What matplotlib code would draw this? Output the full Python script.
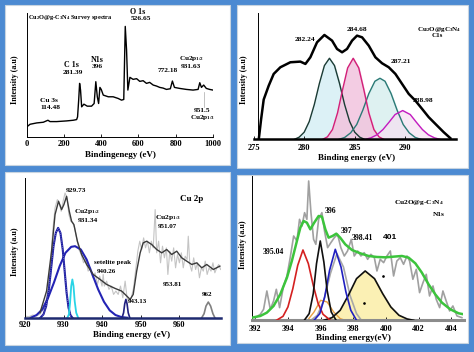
import matplotlib
matplotlib.use("Agg")
import matplotlib.pyplot as plt
from matplotlib.patches import Rectangle

# ---------------- DATA ----------------
# Panel A: survey spectrum
survey_ev = [0, 18, 54, 89, 114, 125, 161, 214, 250, 268, 273, 279, 284, 289, 295, 307, 325, 348, 362,
             371, 379, 386, 393, 400, 411, 438, 464, 491, 509, 521, 529, 536, 543, 554, 571, 590, 607,
             625, 643, 660, 679, 697, 714, 732, 750, 771, 782, 793, 821, 857, 893, 920, 929, 938, 950,
             964, 982, 1000]
survey_i = [30, 38, 42, 44, 50, 46, 46, 48, 50, 52, 60, 110, 160, 140, 90, 98, 92, 92, 100,
            165, 120, 100, 148, 142, 125, 120, 120, 115, 110, 112, 330, 260, 140, 178, 172, 174, 166,
            168, 160, 163, 155, 152, 148, 146, 142, 144, 167, 148, 145, 142, 140, 142, 162, 148, 155,
            145, 142, 140]
survey_ticks = [0, 200, 400, 600, 800, 1000]

# Panel B: C1s
c1s_env_ev = [275.50, 275.73, 275.99, 276.49, 276.98, 277.64, 278.63, 279.62, 280.12, 280.61, 281.27,
              282.00, 282.76, 283.25, 283.75, 284.24, 284.74, 285.23, 285.73, 286.39, 287.05, 287.71,
              288.37, 289.03, 289.69, 290.35, 291.00, 291.67, 292.33, 293.15, 293.81, 294.47]
c1s_env_i = [0, 60, 120, 162, 197, 217, 232, 234, 227, 247, 292, 314, 297, 272, 262, 272, 297, 312,
             307, 282, 247, 229, 217, 197, 167, 137, 117, 92, 67, 42, 22, 4]
c1s_p1_ev = [279.0, 279.5, 280.0, 280.5, 281.0, 281.5, 282.0, 282.5, 283.0, 283.5, 284.0, 284.5, 285.0, 285.5, 286.0]
c1s_p1_i = [0, 7, 22, 54, 105, 168, 222, 244, 222, 168, 105, 54, 22, 7, 0]
c1s_p2_ev = [281.8, 282.3, 282.8, 283.3, 283.8, 284.3, 284.85, 285.4, 285.9, 286.4, 286.9, 287.4, 287.9]
c1s_p2_i = [0, 8, 30, 80, 150, 215, 244, 215, 150, 80, 30, 8, 0]
c1s_p3_ev = [283.4, 284.0, 284.6, 285.2, 285.8, 286.4, 287.0, 287.5, 288.0, 288.6, 289.2, 289.8, 290.4, 291.0, 291.6]
c1s_p3_i = [0, 6, 20, 45, 88, 138, 175, 184, 175, 138, 88, 45, 20, 6, 0]
c1s_p4_ev = [286.0, 286.6, 287.2, 287.8, 288.4, 289.0, 289.75, 290.5, 291.1, 291.7, 292.3, 292.9, 293.5]
c1s_p4_i = [0, 5, 14, 30, 52, 75, 87, 75, 52, 30, 14, 5, 0]
c1s_ticks = [275, 280, 285, 290]

# Panel C: Cu 2p
cu_raw_ev = [920, 921, 922, 923, 924, 925, 925.8, 926.5, 927.2, 927.8, 928.4, 928.9, 929.4, 929.9, 930.4,
             930.9, 931.4, 931.9, 932.4, 932.9, 933.4, 934, 934.6, 935.2, 935.8, 936.4, 937, 937.6,
             938.2, 938.8, 939.4, 940, 940.3, 940.6, 941.2, 941.8, 942.4, 943, 943.6, 944.2, 944.8,
             945.4, 946, 946.5, 947, 947.6, 948.2, 948.8, 949.3, 949.8, 950.3, 950.8, 951.3, 951.8,
             952.3, 952.8, 953.3, 953.8, 954.2, 954.7, 955.2, 955.7, 956.2, 956.7, 957.1, 957.6,
             958.1, 958.6, 959.1, 959.6, 960.1, 960.6, 961.1, 961.6, 962.1, 962.4, 962.8, 963.3,
             963.8, 964.3, 964.8, 965.3, 965.8, 966.3, 966.8, 967.3, 967.8, 968.3, 968.8, 969.3,
             969.8, 970.3, 970.8]
cu_raw_i = [5, 3, 8, 5, 12, 30, 70, 140, 260, 330, 355, 345, 320, 350, 375,
            360, 310, 290, 285, 270, 240, 205, 190, 165, 175, 140, 150, 120,
            135, 100, 125, 95, 130, 95, 110, 85, 95, 70, 80, 70, 95,
            60, 110, 60, 45, 60, 90, 150, 200, 230, 205, 240, 210, 230,
            195, 230, 210, 325, 195, 230, 165, 215, 180, 210, 130, 200,
            170, 210, 150, 190, 165, 195, 150, 185, 175, 245, 160, 140,
            180, 145, 165, 120, 150, 140, 170, 130, 150, 140, 165, 135,
            150, 160, 145]
cu_fit_ev = [923.9, 925.6, 926.9, 927.8, 928.7, 929.5, 930.1, 930.8, 931.5, 932.1, 932.7, 933.6, 934.7,
             936.0, 937.7, 939.5, 941.2, 943.4, 945.1, 946.0, 947.3, 948.1, 949.0, 949.9, 950.7,
             951.6, 952.9, 954.2, 955.5, 956.8, 958.1, 959.4, 960.7, 962.0, 963.3, 964.6, 965.9,
             967.2, 968.9, 970.6]
cu_fit_i = [15, 80, 200, 310, 350, 325, 340, 365, 320, 290, 280, 230, 190,
            160, 130, 115, 100, 88, 80, 70, 55, 70, 140, 195, 225,
            230, 220, 205, 195, 205, 190, 200, 180, 170, 160, 165, 150,
            160, 145, 155]
cu_pk1_ev = [924.0, 924.8, 925.5, 926.2, 926.8, 927.4, 928.0, 928.6, 929.2, 929.8, 930.3, 930.8, 931.3, 931.8, 932.3]
cu_pk1_i = [0, 10, 35, 85, 150, 215, 255, 270, 255, 205, 140, 75, 30, 8, 0]
cu_pk2_ev = [921.5, 923, 924.5, 926, 927.5, 929, 930.5, 932, 933, 934.5, 936, 937.5, 939, 940.5, 942, 943.5, 945, 946.5]
cu_pk2_i = [0, 8, 25, 60, 105, 155, 195, 213, 215, 205, 175, 130, 85, 48, 22, 8, 2, 0]
cu_pk3_ev = [931.0, 931.4, 931.7, 932.0, 932.3, 932.6, 932.9, 933.3, 933.8]
cu_pk3_i = [0, 10, 45, 95, 115, 95, 50, 15, 0]
cu_pk4_ev = [945.2, 945.6, 945.9, 946.2, 946.5, 946.8, 947.2]
cu_pk4_i = [0, 15, 42, 55, 42, 15, 0]
cu_pk5_ev = [965.9, 966.5, 967.0, 967.6, 968.2, 968.8, 969.3]
cu_pk5_i = [0, 12, 35, 47, 35, 12, 0]
cu_ticks = [920, 930, 940, 950, 960]

# Panel D: N1s
n_raw_ev = [392.0, 392.31, 392.51, 392.71, 392.92, 393.12, 393.29, 393.49, 393.73, 393.94, 394.14, 394.35,
            394.55, 394.71, 394.86, 395.02, 395.16, 395.27, 395.41, 395.57, 395.71, 395.88, 396.08,
            396.24, 396.43, 396.63, 396.84, 397.04, 397.24, 397.45, 397.65, 397.88, 398.06, 398.27,
            398.47, 398.67, 398.88, 399.08, 399.29, 399.45, 399.65, 399.86, 400.06, 400.27, 400.47,
            400.67, 400.88, 401.08, 401.29, 401.45, 401.65, 401.86, 402.06, 402.27, 402.47, 402.67,
            402.88, 403.08, 403.29, 403.49, 403.69, 403.9, 404.1, 404.35, 404.65]
n_raw_i = [8, 18, 33, 88, 33, 58, 93, 38, 103, 133, 188, 253,
           238, 303, 283, 323, 303, 418, 323, 243, 228, 303, 323,
           268, 218, 233, 248, 258, 218, 193, 208, 243, 193, 208,
           193, 203, 183, 198, 188, 148, 183, 173, 193, 208, 133,
           178, 188, 168, 193, 178, 123, 153, 83, 113, 138, 73,
           103, 63, 38, 88, 58, 28, 43, 13, 8]
n_fit_ev = [391.8, 392.31, 392.71, 393.12, 393.53, 393.94, 394.24, 394.55, 394.76, 394.96, 395.16, 395.37,
            395.61, 395.88, 396.08, 396.29, 396.49, 396.73, 396.96, 397.2, 397.51, 397.92, 398.43,
            398.94, 399.45, 399.96, 400.47, 400.98, 401.39, 401.8, 402.2, 402.61, 403.02, 403.43,
            403.94, 404.45, 404.76]
n_fit_i = [8, 13, 23, 43, 78, 128, 178, 238, 278, 298, 293, 273,
           293, 313, 311, 273, 248, 253, 260, 248, 228, 211, 201,
           193, 190, 189, 191, 193, 188, 171, 143, 108, 78, 53,
           33, 21, 18]
n_red_ev = [393.3, 393.7, 394.0, 394.3, 394.6, 394.92, 395.25, 395.55, 395.85, 396.15, 396.6]
n_red_i = [0, 12, 40, 95, 165, 211, 170, 105, 50, 18, 0]
n_blk_ev = [395.0, 395.3, 395.55, 395.75, 395.98, 396.2, 396.4, 396.65, 396.95]
n_blk_i = [0, 20, 80, 170, 238, 175, 90, 25, 0]
n_blu_ev = [395.6, 395.95, 396.25, 396.55, 396.9, 397.25, 397.55, 397.85, 398.2]
n_blu_i = [0, 20, 70, 150, 213, 160, 85, 30, 0]
n_gry_ev = [395.4, 395.8, 396.2, 396.6, 397.0, 397.4, 397.8, 398.2, 398.5]
n_gry_i = [0, 15, 60, 140, 200, 160, 75, 20, 0]
n_org_ev = [395.2, 395.6, 396.0, 396.4, 396.8, 397.2, 397.5]
n_org_i = [0, 25, 60, 55, 25, 5, 0]
n_yel_ev = [396.2, 396.7, 397.2, 397.7, 398.2, 398.73, 399.3, 399.8, 400.3, 400.8, 401.3, 401.7]
n_yel_i = [0, 8, 30, 75, 125, 148, 125, 80, 40, 15, 4, 0]
n_ticks = [392, 394, 396, 398, 400, 402, 404]

# ---------------- STYLE ----------------
W, H = 474, 352
plt.rcParams['font.family'] = ['Liberation Serif', 'DejaVu Serif']
plt.rcParams['font.weight'] = 'bold'
plt.rcParams['mathtext.fontset'] = 'custom'
plt.rcParams['mathtext.rm'] = 'Liberation Serif:bold'
plt.rcParams['mathtext.it'] = 'Liberation Serif:bold'
plt.rcParams['mathtext.bf'] = 'Liberation Serif:bold'

fig = plt.figure(figsize=(W / 100, H / 100), dpi=100)
fig.patch.set_facecolor('#4c8ad2')


def fx(x):
    return x / W


def fy(y):
    return 1 - y / H


def panel(x0, y0, x1, y1):
    fig.add_artist(Rectangle((fx(x0), fy(y1)), (x1 - x0) / W, (y1 - y0) / H,
                             transform=fig.transFigure, facecolor='white',
                             edgecolor='#c8d4e0', lw=0.8, zorder=-1))


def axes_px(left, top, right, bottom, pad=2.5):
    ax = fig.add_axes([fx(left), fy(bottom), (right - left) / W, (bottom - top) / H])
    ax.patch.set_alpha(0)
    ax.spines['top'].set_visible(False)
    ax.spines['right'].set_visible(False)
    ax.set_yticks([])
    ax.tick_params(axis='x', direction='in', length=2, width=0.6, pad=pad, labelsize=6)
    return ax


def txt(x, y, s, size=5.3, ha='center', **kw):
    fig.text(fx(x), fy(y), s, ha=ha, va='center', fontsize=size, fontweight='bold', **kw)


panel(5, 5, 230, 165)
panel(237, 5, 468, 168)
panel(5, 172, 230, 345)
panel(237, 175, 468, 343)

# ---------- Panel A ----------
ax1 = axes_px(26.7, 13, 213, 137)
ax1.plot(survey_ev, survey_i, color='black', lw=1.0)
ax1.set_xlim(0, 1000)
ax1.set_ylim(0, 370)
ax1.set_xticks(survey_ticks)
ax1.spines['left'].set_linewidth(0.7)
ax1.spines['bottom'].set_linewidth(0.7)
txt(15, 80, 'Intensity (a.u)', size=5.8, rotation=90)
txt(120, 155, 'Bindingenegy (eV)', size=6.5)
txt(28, 17, 'Cu$_2$O@g-C$_3$N$_4$ Survey spectra', size=4.6, ha='left')
txt(138, 12, 'O 1s', size=5.8)
txt(140.5, 19, '526.65')
txt(97, 60, 'N1s', size=5.8)
txt(97, 66.5, '396')
txt(71.7, 65, 'C 1s', size=5.8)
txt(73, 72, '281.39')
txt(49, 101, 'Cu 3s')
txt(50, 107.5, '114.48')
txt(167.5, 71, '772.18')
txt(191.7, 58.5, 'Cu2p$_{1/2}$', size=5.2)
txt(191, 66.5, '931.63')
txt(202.5, 110.5, '951.5')
txt(203, 118, 'Cu2p$_{1/3}$', size=5.2)
fig.add_artist(plt.Line2D([fx(204), fx(204)], [fy(92), fy(107)], color='#aaaaaa', lw=0.5))

# ---------- Panel B ----------
ax2 = axes_px(253.7, 13, 455.7, 139.5, pad=3.5)
ax2.fill_between(c1s_p1_ev, c1s_p1_i, color='#dcf1f6', zorder=1)
ax2.fill_between(c1s_p3_ev, c1s_p3_i, color='#d6eeee', alpha=0.8, zorder=1)
ax2.fill_between(c1s_p2_ev, c1s_p2_i, color='#f2c4de', alpha=0.85, zorder=1)
ax2.fill_between(c1s_p4_ev, c1s_p4_i, color='#f6e0f2', alpha=0.7, zorder=1)
ax2.plot(c1s_p1_ev, c1s_p1_i, color='#1b3b34', lw=1.0, zorder=2)
ax2.plot(c1s_p3_ev, c1s_p3_i, color='#2b7a76', lw=1.0, zorder=2)
ax2.plot(c1s_p2_ev, c1s_p2_i, color='#d21f78', lw=1.0, zorder=2)
ax2.plot(c1s_p4_ev, c1s_p4_i, color='#c21cc0', lw=1.0, zorder=2)
ax2.plot(c1s_env_ev, c1s_env_i, color='black', lw=1.8, zorder=3)
ax2.set_xlim(275, 295)
ax2.set_ylim(0, 380)
ax2.set_xticks(c1s_ticks)
ax2.spines['left'].set_position(('data', 275.4))
ax2.spines['left'].set_linewidth(0.7)
ax2.spines['bottom'].set_linewidth(1.8)
txt(244.3, 80, 'Intensity (a.u)', size=5.8, rotation=90)
txt(357, 157.5, 'Binding energy (eV)', size=6.5)
txt(305.3, 39.5, '282.24')
txt(357, 29.5, '284.68')
txt(400.7, 61.7, '287.21')
txt(423, 100, '288.98')
txt(438.7, 29.2, 'Cu$_2$O@gC$_3$N$_4$', size=5.0)
txt(437, 35.5, 'C1s', size=5.0)

# ---------- Panel C ----------
ax3 = axes_px(25, 178, 221.4, 317.7)
ax3.plot(cu_raw_ev, cu_raw_i, color='#c4c4c4', lw=0.8, zorder=1)
ax3.plot(cu_pk2_ev, cu_pk2_i, color='#2424b4', lw=1.5, zorder=2)
ax3.plot(cu_pk1_ev, cu_pk1_i, color='#1a1aa0', lw=1.5, zorder=2)
ax3.plot(cu_pk1_ev, cu_pk1_i, color='#8080d0', lw=0.6, ls=':', zorder=2)
ax3.plot(cu_pk3_ev, cu_pk3_i, color='#28d4e6', lw=1.3, zorder=2)
ax3.plot(cu_pk4_ev, cu_pk4_i, color='#202080', lw=1.2, zorder=2)
ax3.plot(cu_pk5_ev, cu_pk5_i, color='#808080', lw=1.2, zorder=2)
ax3.plot(cu_fit_ev, cu_fit_i, color='#3a3a3a', lw=1.0, zorder=3)
ax3.set_xlim(920, 971)
ax3.set_ylim(0, 420)
ax3.set_xticks(cu_ticks)
ax3.spines['left'].set_linewidth(0.7)
ax3.spines['bottom'].set_linewidth(1.8)
ax3.spines['bottom'].set_color('#1e2a70')
txt(15, 252, 'Intensity (a.u)', size=5.8, rotation=90)
txt(131.7, 335, 'Binding energy (eV)', size=6.5)
txt(76, 191, '929.73')
txt(87.5, 212, 'Cu2p$_{1/2}$', size=5.4)
txt(87.5, 220.5, '931.34')
txt(192, 199, 'Cu 2p', size=6.5)
txt(112, 262.3, 'setelite peak', size=5.0)
txt(106.7, 271.5, '940.26', size=5.0)
txt(137.5, 301.5, '943.13', size=5.0)
txt(168.3, 218, 'Cu2p$_{1/3}$', size=5.4)
txt(167.5, 226.5, '951.07', size=5.0)
txt(172.5, 285, '953.81', size=5.0)
txt(207.5, 295, '962', size=5.0)

# ---------- Panel D ----------
ax4 = axes_px(252, 176, 463.5, 320.3, pad=3.2)
ax4.fill_between(n_yel_ev, n_yel_i, color='#fbf0b4', zorder=1)
ax4.plot(n_raw_ev, n_raw_i, color='#a0a0a0', lw=1.2, zorder=2)
ax4.plot(n_gry_ev, n_gry_i, color='#a8a8a8', lw=1.2, zorder=2)
ax4.plot(n_org_ev, n_org_i, color='#e8a040', lw=1.0, zorder=2)
ax4.plot(n_yel_ev, n_yel_i, color='#101010', lw=1.2, zorder=3)
ax4.plot(n_red_ev, n_red_i, color='#d42020', lw=1.2, zorder=3)
ax4.plot(n_blu_ev, n_blu_i, color='#2020c0', lw=1.2, zorder=3)
ax4.plot(n_blk_ev, n_blk_i, color='#101010', lw=1.2, zorder=3)
ax4.plot(n_fit_ev, n_fit_i, color='#3cc43c', lw=1.8, zorder=4)
ax4.plot([399.82, 398.63], [133, 53], ls='none', marker='o', ms=0.9, color='black')
ax4.set_xlim(391.8, 404.75)
ax4.set_ylim(0, 433)
ax4.set_xticks(n_ticks)
ax4.spines['left'].set_linewidth(0.7)
ax4.spines['bottom'].set_linewidth(2.2)
ax4.spines['bottom'].set_color('#8c8c8c')
txt(243, 245, 'Intensity (a.u)', size=5.8, rotation=90)
txt(353.7, 337.5, 'Binding energy(eV)', size=6.5)
txt(418.7, 202.7, 'Cu2O@g-C$_3$N$_4$', size=5.3)
txt(438.7, 214.3, 'N1s', size=5.3)
txt(331, 211, '396', size=5.6)
txt(347, 231, '397', size=5.6)
txt(362, 237.7, '398.41', size=5.6)
fig.text(fx(390), fy(237.7), '401', ha='center', va='center', fontsize=6.0,
         fontweight='bold', family='Liberation Sans')
txt(273, 252, '395.04', size=5.6)

fig.savefig('out.png', dpi=100, facecolor=fig.get_facecolor())
